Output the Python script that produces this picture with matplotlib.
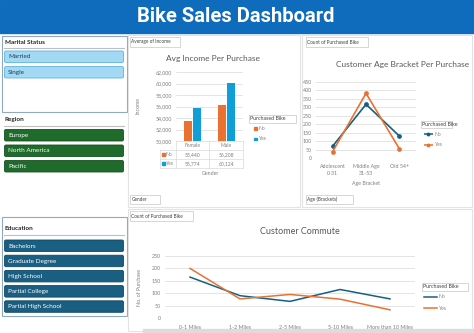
import matplotlib.pyplot as plt
from matplotlib.patches import Rectangle, FancyBboxPatch

plt.rcParams['font.family'] = ['Lato', 'DejaVu Sans']

# Datos del dashboard
marital = ["Married", "Single"]
regions = ["Europe", "North America", "Pacific"]
education = ["Bachelors", "Graduate Degree", "High School", "Partial College", "Partial High School"]

gender = ["Female", "Male"]
income_no = [53440, 56208]
income_yes = [55774, 60124]

age_brackets = ["Adolescent\n0-31", "Middle Age\n31-53", "Old 54+"]
age_no = [70, 318, 130]
age_yes = [38, 383, 55]

commute = ["0-1 Miles", "1-2 Miles", "2-5 Miles", "5-10 Miles", "More than 10 Miles"]
commute_no = [165, 90, 67, 115, 77]
commute_yes = [200, 77, 95, 76, 33]

ORANGE = "#E97132"
BLUE = "#0F9ED5"
TEAL = "#156082"
GRAY_TXT = "#7F7F7F"
GRID = "#D9D9D9"

W, H = 474, 333
fig = plt.figure(figsize=(W / 100, H / 100), dpi=100)


def rect(x0, y0, x1, y1):
    return [x0 / W, 1 - y1 / H, (x1 - x0) / W, (y1 - y0) / H]


bg = fig.add_axes([0, 0, 1, 1])
bg.set_xlim(0, W)
bg.set_ylim(H, 0)
bg.axis("off")

# Barra de titulo
bg.add_patch(Rectangle((0, 0), W, 33, color="#0F6CBD"))
bg.text(236, 17, "Bike Sales Dashboard", color="white", fontsize=14.5, fontweight="bold",
        ha="center", va="center", family=["Roboto", "DejaVu Sans"])


def slicer(title, items, y_head, y_line, y_btn, step, fill, edge, tcolor):
    bg.text(5, y_head, title, fontsize=4.6, fontweight="bold", color="#262626", va="center")
    bg.plot([4, 124], [y_line, y_line], color="#BFBFBF", lw=0.8)
    for i, it in enumerate(items):
        y = y_btn + i * step
        bg.add_patch(FancyBboxPatch((4.5, y), 119, 11.5, boxstyle="round,pad=0,rounding_size=1.5",
                                    fc=fill, ec=edge, lw=0.6))
        bg.text(8, y + 6, it, fontsize=4.6, color=tcolor, va="center")


bg.add_patch(Rectangle((2, 36), 125, 76, fill=False, ec="#8EA9C1", lw=0.8))
slicer("Marital Status", marital, 42, 48, 51, 15.5, "#A3D9F3", "#5FB4E0", "#1F3B57")
slicer("Region", regions, 119, 125.5, 129.5, 15.5, "#1E6B2C", "#174F21", "white")
bg.add_patch(Rectangle((2, 217), 125, 99, fill=False, ec="#8EA9C1", lw=0.8))
slicer("Education", education, 229, 235, 240, 15.2, "#1A5E82", "#134862", "white")

# Paneles de graficos
for x0, y0, x1, y1 in [(128, 35, 300, 207), (302, 35, 472, 207), (128, 209, 472, 331)]:
    bg.add_patch(Rectangle((x0, y0), x1 - x0, y1 - y0, fill=False, ec="#E3E3E3", lw=0.8))


def field_btn(x0, y0, x1, y1, txt):
    bg.add_patch(Rectangle((x0, y0), x1 - x0, y1 - y0, fc="white", ec="#D0D0D0", lw=0.6))
    bg.text(x0 + 1.5, (y0 + y1) / 2, txt, fontsize=3.4, color="#404040", va="center")


field_btn(130, 37, 180, 47, "Average of Income")
field_btn(130, 195, 160, 204, "Gender")
field_btn(306, 37, 368, 47, "Count of Purchased Bike")
field_btn(306, 195, 353, 204, "Age (Brackets)")
field_btn(130, 211, 193, 221, "Count of Purchased Bike")


def style(ax, ylim, step, fmt):
    ax.set_facecolor("none")
    for s in ax.spines.values():
        s.set_visible(False)
    ax.set_ylim(*ylim)
    ax.set_yticks(range(ylim[0], ylim[1] + 1, step))
    ax.set_yticklabels([fmt(v) for v in range(ylim[0], ylim[1] + 1, step)])
    ax.tick_params(length=0, labelsize=3.8, colors=GRAY_TXT, pad=3)
    ax.grid(axis="y", color=GRID, lw=0.5)
    ax.set_axisbelow(True)


def legend_box(x0, y0, x1, y1):
    bg.add_patch(Rectangle((x0, y0), x1 - x0, y1 - y0, fc="white", ec="#D0D0D0", lw=0.6))
    bg.text(x0 + 1, (y0 + y1) / 2, "Purchased Bike", fontsize=3.8, color="#404040", va="center")


# Grafico 1: ingreso promedio
ax1 = fig.add_axes(rect(176, 72, 243, 141))
style(ax1, (50000, 62000), 2000, lambda v: f"{v:,}")
xs = range(len(gender))
ax1.bar([x - 0.13 for x in xs], income_no, width=0.24, color=ORANGE)
ax1.bar([x + 0.13 for x in xs], income_yes, width=0.24, color=BLUE)
ax1.set_xlim(-0.5, len(gender) - 0.5)
ax1.set_xticks([])
bg.text(213, 58, "Avg Income Per Purchase", fontsize=6, color="#595959", ha="center", va="center")
bg.text(138, 106, "Income", fontsize=3.8, color=GRAY_TXT, rotation=90, ha="center", va="center")

# tabla de datos bajo el grafico
tx0, tx1 = 176, 243
cw = (tx1 - tx0) / len(gender)
for yl in [150, 159, 167.5]:
    bg.plot([160, tx1], [yl, yl], color=GRID, lw=0.5)
bg.plot([tx0, tx1], [141, 141], color=GRID, lw=0.5)
bg.plot([160, 160], [150, 167.5], color=GRID, lw=0.5)
for i in range(len(gender) + 1):
    bg.plot([tx0 + i * cw] * 2, [141, 167.5], color=GRID, lw=0.5)
for i, g in enumerate(gender):
    xc = tx0 + (i + 0.5) * cw
    bg.text(xc, 145.5, g, fontsize=3.6, color=GRAY_TXT, ha="center", va="center")
    bg.text(xc, 154.5, f"{income_no[i]:,}", fontsize=3.6, color=GRAY_TXT, ha="center", va="center")
    bg.text(xc, 163.3, f"{income_yes[i]:,}", fontsize=3.6, color=GRAY_TXT, ha="center", va="center")
for yy, lab, c in [(154.5, "No", ORANGE), (163.3, "Yes", BLUE)]:
    bg.add_patch(Rectangle((162, yy - 1.3), 2.6, 2.6, color=c))
    bg.text(166, yy, lab, fontsize=3.6, color=GRAY_TXT, va="center")
bg.text(210, 173.5, "Gender", fontsize=3.8, color=GRAY_TXT, ha="center", va="center")

legend_box(249, 114.5, 296, 122.5)
for yy, lab, c in [(128.5, "No", ORANGE), (139, "Yes", BLUE)]:
    bg.add_patch(Rectangle((254, yy - 1.3), 2.6, 2.6, color=c))
    bg.text(258.5, yy, lab, fontsize=3.6, color=GRAY_TXT, va="center")

# Grafico 2: rango de edad
ax2 = fig.add_axes(rect(316, 82, 416, 158))
style(ax2, (0, 450), 50, str)
ax2.plot(range(len(age_brackets)), age_no, color=TEAL, lw=1.2, marker="o", ms=2.4)
ax2.plot(range(len(age_brackets)), age_yes, color=ORANGE, lw=1.2, marker="o", ms=2.4)
ax2.set_xlim(-0.5, len(age_brackets) - 0.5)
ax2.set_xticks(range(len(age_brackets)))
ax2.set_xticklabels(age_brackets, linespacing=1.6)
ax2.tick_params(axis="x", pad=4)
bg.text(403, 64, "Customer Age Bracket Per Purchase", fontsize=6, color="#595959", ha="center", va="center")
bg.text(366, 183, "Age Bracket", fontsize=3.8, color=GRAY_TXT, ha="center", va="center")

legend_box(421, 121, 452, 128)
for yy, lab, c in [(134, "No", TEAL), (145, "Yes", ORANGE)]:
    bg.plot([424, 433], [yy, yy], color=c, lw=1.1, solid_capstyle="butt")
    bg.plot([428.5], [yy], color=c, marker="o", ms=1.8)
    bg.text(434.5, yy, lab, fontsize=3.6, color=GRAY_TXT, va="center")

# Grafico 3: distancia de viaje
ax3 = fig.add_axes(rect(165, 256, 415, 318))
style(ax3, (0, 250), 50, str)
ax3.plot(range(len(commute)), commute_no, color=TEAL, lw=1.1)
ax3.plot(range(len(commute)), commute_yes, color=ORANGE, lw=1.1)
ax3.set_xlim(-0.5, len(commute) - 0.5)
ax3.set_xticks(range(len(commute)))
ax3.set_xticklabels(commute)
ax3.tick_params(axis="x", pad=5)
bg.text(300, 232, "Customer Commute", fontsize=6.5, color="#595959", ha="center", va="center")
bg.text(140, 287, "No. of Purchase", fontsize=3.8, color=GRAY_TXT, rotation=90, ha="center", va="center")

legend_box(422, 283, 468, 291)
for yy, lab, c in [(297, "No", TEAL), (308, "Yes", ORANGE)]:
    bg.plot([424, 437], [yy, yy], color=c, lw=1.1)
    bg.text(438.5, yy, lab, fontsize=3.6, color=GRAY_TXT, va="center")

# barra de desplazamiento inferior
bg.add_patch(Rectangle((143, 329), 331, 4, color="#DCDCDC"))

fig.savefig("out.png", dpi=100)
plt.close(fig)
